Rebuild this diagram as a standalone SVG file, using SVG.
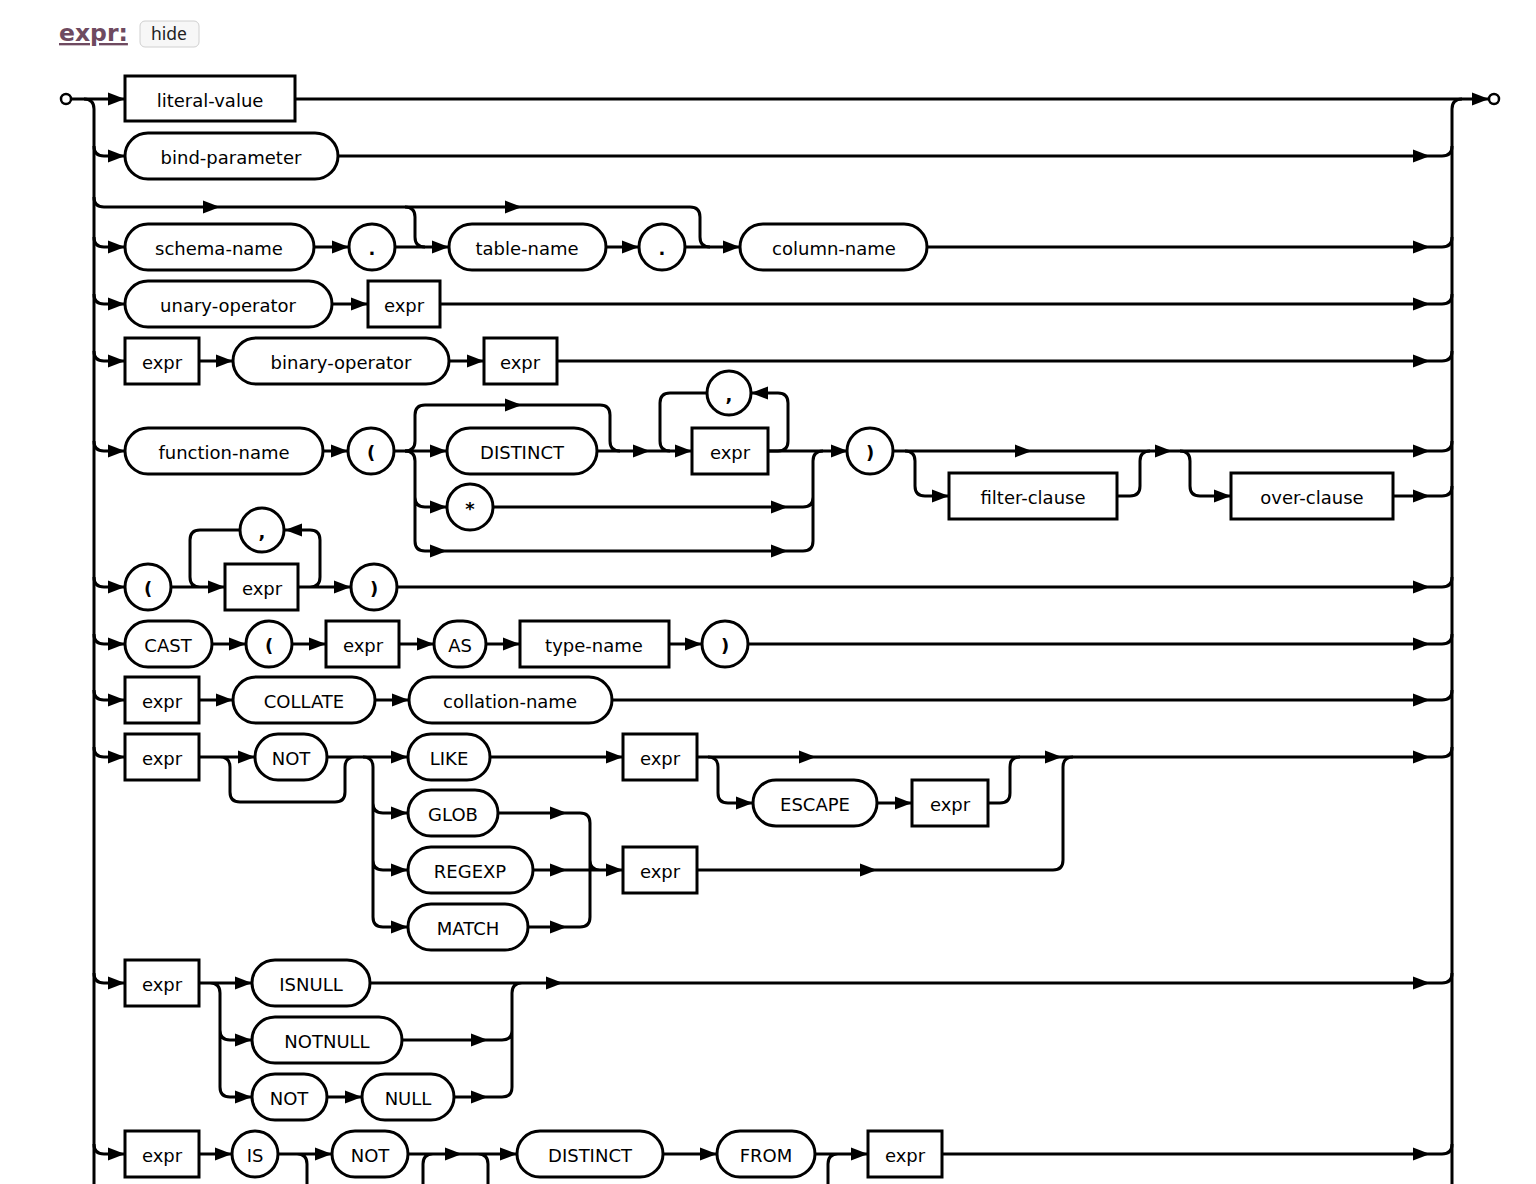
<svg xmlns="http://www.w3.org/2000/svg" xmlns:xlink="http://www.w3.org/1999/xlink" width="1536" height="1184" viewBox="0 0 1536 1184">
<style>
.c{fill:none;stroke:#000;stroke-width:3}
.n{fill:#fff;stroke:#000;stroke-width:3}
.t{font-family:"DejaVu Sans",Verdana,sans-serif;font-size:18px;text-anchor:middle;fill:#000;transform:translate(0px,1.5px)}
.b{font-weight:bold}
</style>
<defs>
<path id="ar" d="M0,0 L-17,-6.5 L-17,6.5 Z" fill="#000"/>
<path id="al" d="M0,0 L17,-6.5 L17,6.5 Z" fill="#000"/>
</defs>
<rect width="1536" height="1184" fill="#fff"/>
<g id="header">
<text x="59" y="41" font-family="'DejaVu Sans',Verdana,sans-serif" font-size="23.5" font-weight="bold" fill="#6e4a60" text-decoration="underline">expr:</text>
<rect x="140" y="21" width="59" height="26" rx="5" fill="#f7f7f7" stroke="#d0d0d0" stroke-width="1"/>
<text x="169" y="40" font-family="'Noto Sans','Liberation Sans',sans-serif" font-size="17.5" text-anchor="middle" fill="#222">hide</text>
</g>
<g id="connectors">
<circle cx="66" cy="99" r="5" fill="#fff" stroke="#000" stroke-width="2.5"/>
<circle cx="1494" cy="99" r="5" fill="#fff" stroke="#000" stroke-width="2.5"/>
<path class="c" d="M71,99 H125 M295,99 H1488"/>
<path class="c" d="M84,99 Q94,99 94,109 V1184"/>
<path class="c" d="M1452,1184 V109 Q1452,99 1462,99"/>
<path class="c" d="M94,146 Q94,156 104,156 H125 M94,197 Q94,207 104,207 H690 M94,237 Q94,247 104,247 H125 M94,294 Q94,304 104,304 H125 M94,351 Q94,361 104,361 H125 M94,441 Q94,451 104,451 H125 M94,577 Q94,587 104,587 H125 M94,634 Q94,644 104,644 H125 M94,690 Q94,700 104,700 H125 M94,747 Q94,757 104,757 H125 M94,973 Q94,983 104,983 H125 M94,1144 Q94,1154 104,1154 H125"/>
<path class="c" d="M1430,156 H1442 Q1452,156 1452,146 M1430,247 H1442 Q1452,247 1452,237 M1430,304 H1442 Q1452,304 1452,294 M1430,361 H1442 Q1452,361 1452,351 M1430,451 H1442 Q1452,451 1452,441 M1430,496 H1442 Q1452,496 1452,486 M1430,587 H1442 Q1452,587 1452,577 M1430,644 H1442 Q1452,644 1452,634 M1430,700 H1442 Q1452,700 1452,690 M1430,757 H1442 Q1452,757 1452,747 M1430,983 H1442 Q1452,983 1452,973 M1430,1154 H1442 Q1452,1154 1452,1144"/>
<path class="c" d="M338,156 H1430"/>
<path class="c" d="M405,207 Q415,207 415,217 V237 Q415,247 425,247 M690,207 Q700,207 700,217 V237 Q700,247 710,247"/>
<path class="c" d="M314,247 H349 M395,247 H449 M606,247 H639 M685,247 H740 M927,247 H1430"/>
<path class="c" d="M332,304 H368 M440,304 H1430"/>
<path class="c" d="M199,361 H233 M449,361 H484 M557,361 H1430"/>
<path class="c" d="M323,451 H348 M394,451 H447 M597,451 H692 M768,451 H848 M893,451 H1430"/>
<path class="c" d="M405,451 Q415,451 415,441 V415 Q415,405 425,405 H600 Q610,405 610,415 V441 Q610,451 620,451"/>
<path class="c" d="M405,451 Q415,451 415,461 V541 Q415,551 425,551 H788 M415,497 Q415,507 425,507 H447 M493,507 H788"/>
<path class="c" d="M788,507 H803 Q813,507 813,497 V461 Q813,451 823,451 M788,551 H803 Q813,551 813,541 V495"/>
<path class="c" d="M707,393 H670 Q660,393 660,403 V441 Q660,451 670,451 M768,451 H778 Q788,451 788,441 V403 Q788,393 778,393 H751"/>
<path class="c" d="M905,451 Q915,451 915,461 V486 Q915,496 925,496 H949 M1117,496 H1130 Q1140,496 1140,486 V461 Q1140,451 1150,451 M1180,451 Q1190,451 1190,461 V486 Q1190,496 1200,496 H1231 M1393,496 H1430"/>
<path class="c" d="M171,587 H225 M298,587 H351 M397,587 H1430 M240,530 H200 Q190,530 190,540 V577 Q190,587 200,587 M298,587 H310 Q320,587 320,577 V540 Q320,530 310,530 H285"/>
<path class="c" d="M212,644 H246 M292,644 H326 M399,644 H434 M486,644 H520 M669,644 H702 M748,644 H1430"/>
<path class="c" d="M199,700 H233 M375,700 H409 M612,700 H1430"/>
<path class="c" d="M199,757 H255 M327,757 H408 M490,757 H623 M697,757 H1430 M220,757 Q230,757 230,767 V792 Q230,802 240,802 H335 Q345,802 345,792 V767 Q345,757 355,757"/>
<path class="c" d="M363,757 Q373,757 373,767 V917 Q373,927 383,927 H408 M373,803 Q373,813 383,813 H408 M373,860 Q373,870 383,870 H408"/>
<path class="c" d="M708,757 Q718,757 718,767 V793 Q718,803 728,803 H753 M877,803 H912 M988,803 H1000 Q1010,803 1010,793 V767 Q1010,757 1020,757"/>
<path class="c" d="M498,813 H580 Q590,813 590,823 V860 Q590,870 600,870 H623 M533,870 H623 M528,927 H580 Q590,927 590,917 V858"/>
<path class="c" d="M697,870 H1053 Q1063,870 1063,860 V767 Q1063,757 1073,757"/>
<path class="c" d="M199,983 H252 M370,983 H1430 M210,983 Q220,983 220,993 V1087 Q220,1097 230,1097 H252 M220,1030 Q220,1040 230,1040 H252 M402,1040 H502 Q512,1040 512,1030 V993 Q512,983 522,983 M327,1097 H362 M454,1097 H502 Q512,1097 512,1087 V1028"/>
<path class="c" d="M199,1154 H232 M278,1154 H332 M408,1154 H517 M663,1154 H717 M815,1154 H868 M942,1154 H1430 M297,1154 Q307,1154 307,1164 V1184 M423,1184 V1164 Q423,1154 433,1154 M478,1154 Q488,1154 488,1164 V1184 M828,1184 V1164 Q828,1154 838,1154"/>
<use href="#ar" x="125" y="99"/><use href="#ar" x="1489" y="99"/>
<use href="#ar" x="125" y="156"/><use href="#ar" x="1430" y="156"/>
<use href="#ar" x="220" y="207"/><use href="#ar" x="522" y="207"/>
<use href="#ar" x="125" y="247"/><use href="#ar" x="349" y="247"/><use href="#ar" x="449" y="247"/><use href="#ar" x="639" y="247"/><use href="#ar" x="740" y="247"/><use href="#ar" x="1430" y="247"/>
<use href="#ar" x="125" y="304"/><use href="#ar" x="368" y="304"/><use href="#ar" x="1430" y="304"/>
<use href="#ar" x="125" y="361"/><use href="#ar" x="233" y="361"/><use href="#ar" x="484" y="361"/><use href="#ar" x="1430" y="361"/>
<use href="#ar" x="125" y="451"/><use href="#ar" x="348" y="451"/><use href="#ar" x="447" y="451"/><use href="#ar" x="522" y="405"/><use href="#ar" x="650" y="451"/><use href="#ar" x="692" y="451"/><use href="#al" x="751" y="393"/><use href="#ar" x="447" y="507"/><use href="#ar" x="788" y="507"/><use href="#ar" x="447" y="551"/><use href="#ar" x="788" y="551"/><use href="#ar" x="848" y="451"/><use href="#ar" x="1032" y="451"/><use href="#ar" x="1172" y="451"/><use href="#ar" x="949" y="496"/><use href="#ar" x="1231" y="496"/><use href="#ar" x="1430" y="451"/><use href="#ar" x="1430" y="496"/>
<use href="#ar" x="125" y="587"/><use href="#ar" x="225" y="587"/><use href="#al" x="285" y="530"/><use href="#ar" x="351" y="587"/><use href="#ar" x="1430" y="587"/>
<use href="#ar" x="125" y="644"/><use href="#ar" x="246" y="644"/><use href="#ar" x="326" y="644"/><use href="#ar" x="434" y="644"/><use href="#ar" x="520" y="644"/><use href="#ar" x="702" y="644"/><use href="#ar" x="1430" y="644"/>
<use href="#ar" x="125" y="700"/><use href="#ar" x="233" y="700"/><use href="#ar" x="409" y="700"/><use href="#ar" x="1430" y="700"/>
<use href="#ar" x="125" y="757"/><use href="#ar" x="255" y="757"/><use href="#ar" x="408" y="757"/><use href="#ar" x="623" y="757"/><use href="#ar" x="816" y="757"/><use href="#ar" x="1062" y="757"/><use href="#ar" x="1430" y="757"/><use href="#ar" x="753" y="803"/><use href="#ar" x="912" y="803"/>
<use href="#ar" x="408" y="813"/><use href="#ar" x="408" y="870"/><use href="#ar" x="408" y="927"/><use href="#ar" x="567" y="813"/><use href="#ar" x="567" y="870"/><use href="#ar" x="567" y="927"/><use href="#ar" x="623" y="870"/><use href="#ar" x="877" y="870"/>
<use href="#ar" x="125" y="983"/><use href="#ar" x="252" y="983"/><use href="#ar" x="563" y="983"/><use href="#ar" x="1430" y="983"/><use href="#ar" x="252" y="1040"/><use href="#ar" x="488" y="1040"/><use href="#ar" x="252" y="1097"/><use href="#ar" x="362" y="1097"/><use href="#ar" x="488" y="1097"/>
<use href="#ar" x="125" y="1154"/><use href="#ar" x="232" y="1154"/><use href="#ar" x="332" y="1154"/><use href="#ar" x="462" y="1154"/><use href="#ar" x="517" y="1154"/><use href="#ar" x="717" y="1154"/><use href="#ar" x="868" y="1154"/><use href="#ar" x="1430" y="1154"/>
</g>
<g id="n-literal-value"><rect class="n" x="125" y="76" width="170" height="45"/><text class="t" x="210" y="105">literal-value</text></g>
<g id="n-bind-parameter"><rect class="n" x="125" y="133" width="213" height="46" rx="23"/><text class="t" x="231" y="162">bind-parameter</text></g>
<g id="n-schema-name"><rect class="n" x="125" y="224" width="189" height="46" rx="23"/><text class="t" x="219" y="253">schema-name</text></g>
<g id="n-dot1"><circle class="n" cx="372" cy="247" r="23"/><text class="t b" x="372" y="253">.</text></g>
<g id="n-table-name"><rect class="n" x="449" y="224" width="157" height="46" rx="23"/><text class="t" x="527" y="253">table-name</text></g>
<g id="n-dot2"><circle class="n" cx="662" cy="247" r="23"/><text class="t b" x="662" y="253">.</text></g>
<g id="n-column-name"><rect class="n" x="740" y="224" width="187" height="46" rx="23"/><text class="t" x="834" y="253">column-name</text></g>
<g id="n-unary-operator"><rect class="n" x="125" y="281" width="207" height="46" rx="23"/><text class="t" x="228" y="310">unary-operator</text></g>
<g id="n-expr1"><rect class="n" x="368" y="281" width="72" height="46"/><text class="t" x="404" y="310">expr</text></g>
<g id="n-expr2"><rect class="n" x="125" y="338" width="74" height="46"/><text class="t" x="162" y="367">expr</text></g>
<g id="n-binary-operator"><rect class="n" x="233" y="338" width="216" height="46" rx="23"/><text class="t" x="341" y="367">binary-operator</text></g>
<g id="n-expr3"><rect class="n" x="484" y="338" width="73" height="46"/><text class="t" x="520" y="367">expr</text></g>
<g id="n-function-name"><rect class="n" x="125" y="428" width="198" height="46" rx="23"/><text class="t" x="224" y="457">function-name</text></g>
<g id="n-lparen1"><circle class="n" cx="371" cy="451" r="23"/><text class="t b" x="371" y="457">(</text></g>
<g id="n-distinct1"><rect class="n" x="447" y="428" width="150" height="46" rx="23"/><text class="t" x="522" y="457">DISTINCT</text></g>
<g id="n-comma1"><circle class="n" cx="729" cy="393" r="22"/><text class="t b" x="729" y="399">,</text></g>
<g id="n-expr4"><rect class="n" x="692" y="428" width="76" height="46"/><text class="t" x="730" y="457">expr</text></g>
<g id="n-star"><circle class="n" cx="470" cy="507" r="23"/><text class="t b" x="470" y="513">*</text></g>
<g id="n-rparen1"><circle class="n" cx="870" cy="451" r="23"/><text class="t b" x="870" y="457">)</text></g>
<g id="n-filter-clause"><rect class="n" x="949" y="473" width="168" height="46"/><text class="t" x="1033" y="502">filter-clause</text></g>
<g id="n-over-clause"><rect class="n" x="1231" y="473" width="162" height="46"/><text class="t" x="1312" y="502">over-clause</text></g>
<g id="n-lparen2"><circle class="n" cx="148" cy="587" r="23"/><text class="t b" x="148" y="593">(</text></g>
<g id="n-comma2"><circle class="n" cx="262" cy="530" r="22"/><text class="t b" x="262" y="536">,</text></g>
<g id="n-expr5"><rect class="n" x="225" y="564" width="73" height="46"/><text class="t" x="262" y="593">expr</text></g>
<g id="n-rparen2"><circle class="n" cx="374" cy="587" r="23"/><text class="t b" x="374" y="593">)</text></g>
<g id="n-cast"><rect class="n" x="125" y="621" width="87" height="46" rx="23"/><text class="t" x="168" y="650">CAST</text></g>
<g id="n-lparen3"><circle class="n" cx="269" cy="644" r="23"/><text class="t b" x="269" y="650">(</text></g>
<g id="n-expr6"><rect class="n" x="326" y="621" width="73" height="46"/><text class="t" x="363" y="650">expr</text></g>
<g id="n-as"><rect class="n" x="434" y="621" width="52" height="46" rx="23"/><text class="t" x="460" y="650">AS</text></g>
<g id="n-type-name"><rect class="n" x="520" y="621" width="149" height="46"/><text class="t" x="594" y="650">type-name</text></g>
<g id="n-rparen3"><circle class="n" cx="725" cy="644" r="23"/><text class="t b" x="725" y="650">)</text></g>
<g id="n-expr7"><rect class="n" x="125" y="677" width="74" height="46"/><text class="t" x="162" y="706">expr</text></g>
<g id="n-collate"><rect class="n" x="233" y="677" width="142" height="46" rx="23"/><text class="t" x="304" y="706">COLLATE</text></g>
<g id="n-collation-name"><rect class="n" x="409" y="677" width="203" height="46" rx="23"/><text class="t" x="510" y="706">collation-name</text></g>
<g id="n-expr8"><rect class="n" x="125" y="734" width="74" height="46"/><text class="t" x="162" y="763">expr</text></g>
<g id="n-not1"><rect class="n" x="255" y="734" width="72" height="46" rx="23"/><text class="t" x="291" y="763">NOT</text></g>
<g id="n-like"><rect class="n" x="408" y="734" width="82" height="46" rx="23"/><text class="t" x="449" y="763">LIKE</text></g>
<g id="n-expr9"><rect class="n" x="623" y="734" width="74" height="46"/><text class="t" x="660" y="763">expr</text></g>
<g id="n-escape"><rect class="n" x="753" y="780" width="124" height="46" rx="23"/><text class="t" x="815" y="809">ESCAPE</text></g>
<g id="n-expr10"><rect class="n" x="912" y="780" width="76" height="46"/><text class="t" x="950" y="809">expr</text></g>
<g id="n-glob"><rect class="n" x="408" y="790" width="90" height="46" rx="23"/><text class="t" x="453" y="819">GLOB</text></g>
<g id="n-regexp"><rect class="n" x="408" y="847" width="125" height="46" rx="23"/><text class="t" x="470" y="876">REGEXP</text></g>
<g id="n-match"><rect class="n" x="408" y="904" width="120" height="46" rx="23"/><text class="t" x="468" y="933">MATCH</text></g>
<g id="n-expr11"><rect class="n" x="623" y="847" width="74" height="46"/><text class="t" x="660" y="876">expr</text></g>
<g id="n-expr12"><rect class="n" x="125" y="960" width="74" height="46"/><text class="t" x="162" y="989">expr</text></g>
<g id="n-isnull"><rect class="n" x="252" y="960" width="118" height="46" rx="23"/><text class="t" x="311" y="989">ISNULL</text></g>
<g id="n-notnull"><rect class="n" x="252" y="1017" width="150" height="46" rx="23"/><text class="t" x="327" y="1046">NOTNULL</text></g>
<g id="n-not2"><rect class="n" x="252" y="1074" width="75" height="46" rx="23"/><text class="t" x="289" y="1103">NOT</text></g>
<g id="n-null"><rect class="n" x="362" y="1074" width="92" height="46" rx="23"/><text class="t" x="408" y="1103">NULL</text></g>
<g id="n-expr13"><rect class="n" x="125" y="1131" width="74" height="46"/><text class="t" x="162" y="1160">expr</text></g>
<g id="n-is"><circle class="n" cx="255" cy="1154" r="23"/><text class="t" x="255" y="1160">IS</text></g>
<g id="n-not3"><rect class="n" x="332" y="1131" width="76" height="46" rx="23"/><text class="t" x="370" y="1160">NOT</text></g>
<g id="n-distinct2"><rect class="n" x="517" y="1131" width="146" height="46" rx="23"/><text class="t" x="590" y="1160">DISTINCT</text></g>
<g id="n-from"><rect class="n" x="717" y="1131" width="98" height="46" rx="23"/><text class="t" x="766" y="1160">FROM</text></g>
<g id="n-expr14"><rect class="n" x="868" y="1131" width="74" height="46"/><text class="t" x="905" y="1160">expr</text></g>
</svg>
